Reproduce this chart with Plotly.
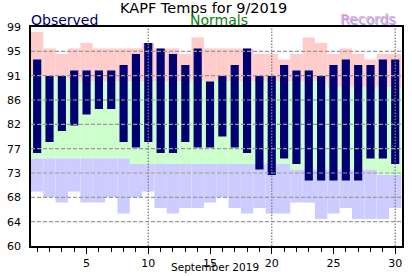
import plotly.graph_objects as go

# KAPF daily temps, September 2019 (deg F)
days = list(range(1, 31))

obs_high = [93, 90, 90, 91, 91, 91, 91, 92, 94, 96, 95, 94, 92, 95, 89,
            90, 92, 95, 90, 90, 92, 91, 91, 90, 92, 93, 92, 92, 93, 93]
obs_low = [76, 78, 80, 81, 83, 84, 84, 78, 77, 78, 76, 76, 78, 77, 77,
           79, 77, 76, 73, 72, 75, 74, 71, 71, 71, 71, 71, 75, 75, 74]

normal_high = [90, 90, 90, 89, 89, 89, 89, 89, 89, 89, 89, 89, 89, 89, 89,
               89, 89, 89, 89, 89, 89, 89, 89, 89, 88, 88, 88, 88, 88, 88]
normal_low = [75, 75, 75, 75, 75, 75, 75, 75, 74, 74, 74, 74, 74, 74, 74,
              74, 74, 74, 74, 74, 74, 73, 73, 73, 73, 73, 73, 73, 72, 72]

record_high = [98, 95, 94, 95, 96, 95, 95, 95, 95, 96, 95, 95, 94, 97, 95,
               95, 95, 95, 94, 94, 93, 94, 97, 96, 94, 95, 94, 93, 94, 94]
record_low = [69, 68, 67, 69, 67, 67, 68, 65, 68, 69, 66, 65, 66, 66, 67,
              68, 66, 65, 66, 65, 65, 67, 67, 64, 65, 66, 64, 64, 64, 66]

ytick_labels = ["60", "64", "68", "73", "77", "82", "86", "91", "95", "99"]
xtick_major = [5, 10, 15, 20, 25, 30]
vline_days = [10, 20, 30]

FONT = "DejaVu Sans"
y_lo, y_hi = 59.1, 98.9
n = len(ytick_labels) - 1
ytick_vals = [y_lo + k * (y_hi - y_lo) / n for k in range(n + 1)]


def band(top, bottom, color, width):
    return go.Bar(x=days, y=[t - b for t, b in zip(top, bottom)], base=bottom,
                  width=width, marker=dict(color=color, line=dict(width=0)),
                  hoverinfo="skip", showlegend=False)


fig = go.Figure()
fig.add_trace(band(record_high, normal_high, "#ffcccc", 1.0))
fig.add_trace(band(normal_high, normal_low, "#ccffcc", 1.0))
fig.add_trace(band(normal_low, record_low, "#ccccff", 1.0))
fig.add_trace(band(obs_high, obs_low, "#000072", 0.66))

# grid drawn above the bars, like the original
shapes = []
for v in ytick_vals[1:-1]:
    shapes.append(dict(type="line", xref="paper", x0=0, x1=1, yref="y", y0=v, y1=v,
                       layer="above", line=dict(color="#999999", width=1.2, dash="4px,2px")))
for d in vline_days:
    shapes.append(dict(type="line", xref="x", x0=d, x1=d, yref="paper", y0=0, y1=1,
                       layer="above", line=dict(color="#808080", width=1.3, dash="1.5px,1.5px")))

annos = [
    dict(text="KAPF Temps for 9/2019", x=0.464, y=1.089, font=dict(size=14.5, color="black")),
    dict(text="Observed", x=0, xanchor="left", xshift=-2, y=1.033,
         font=dict(size=14, color="#000072")),
    dict(text="Normals", x=0.5075, y=1.033, font=dict(size=14, color="#0c800c")),
    dict(text="Records", x=0.993, xanchor="right", y=1.033, xshift=-1, yshift=1,
         font=dict(size=14, color="#ffa8b0")),
    dict(text="Records", x=0.993, xanchor="right", y=1.033,
         font=dict(size=14, color="#a4a4ff")),
    dict(text="September 2019", x=0.495, y=-0.095, font=dict(size=10.5, color="black")),
]
for a in annos:
    a.update(xref="paper", yref="paper", showarrow=False, yanchor="middle",
             xanchor=a.get("xanchor", "center"), font=dict(family=FONT, **a["font"]))

fig.update_layout(
    width=412, height=276,
    margin=dict(l=31, r=10, t=27, b=30),
    paper_bgcolor="white", plot_bgcolor="white",
    barmode="overlay",
    font=dict(family=FONT, size=11, color="black"),
    shapes=shapes, annotations=annos,
    xaxis=dict(range=[0.5, 30.55], tickmode="array", tickvals=xtick_major,
               ticks="outside", ticklen=6, tickcolor="black", tickwidth=1.2,
               minor=dict(tickmode="array", tickvals=days, ticks="outside",
                          ticklen=4, tickcolor="black", tickwidth=1.2),
               showgrid=False, zeroline=False, showline=True, mirror=True,
               automargin=False,
               linecolor="black", linewidth=1.5, tickfont=dict(size=11)),
    yaxis=dict(range=[y_lo, y_hi], tickmode="array", tickvals=ytick_vals,
               ticktext=ytick_labels, ticks="", ticklabelstandoff=6,
               showgrid=False, zeroline=False, showline=True, mirror=True,
               automargin=False,
               linecolor="black", linewidth=1.5, tickfont=dict(size=11)),
)

# page body has a default 8px margin; drop it so the figure sits at 0,0
fig.write_html("out.html", config={"displayModeBar": False},
               post_script="document.body.style.margin='0';")
